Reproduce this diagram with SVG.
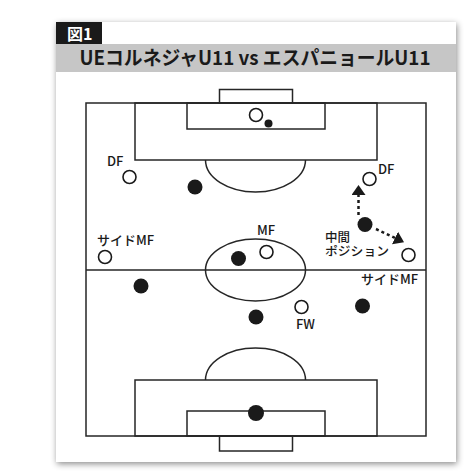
<svg xmlns="http://www.w3.org/2000/svg" width="474" height="474" viewBox="0 0 474 474">
<defs>
<filter id="sh" x="-10%" y="-10%" width="120%" height="120%">
<feDropShadow dx="1" dy="2" stdDeviation="3" flood-color="#000" flood-opacity="0.45"/>
</filter>
<marker id="ah" viewBox="0 0 10 14" refX="0" refY="7" markerWidth="10" markerHeight="14" markerUnits="userSpaceOnUse" orient="auto">
<path d="M0,0 L10,7 L0,14 z" fill="#1a1a1a"/>
</marker>
<style>
.ln{fill:none;stroke:#262626;stroke-width:1.5}
.wp{fill:#fff;stroke:#1a1a1a;stroke-width:1.6}
.bp{fill:#1a1a1a}
.lb{font-family:"Noto Sans CJK JP","Noto Sans",sans-serif;font-size:13px;font-weight:500;fill:#1a1a1a}
.lt{font-family:"Liberation Sans","Noto Sans CJK JP",sans-serif;font-size:12.5px;font-weight:500;fill:#1a1a1a}
.dt{fill:none;stroke:#1a1a1a;stroke-width:2.5;stroke-dasharray:3 3}
</style>
</defs>
<rect width="474" height="474" fill="#fff"/>
<g id="frame">
<rect x="56" y="22" width="400" height="440" fill="#fff" filter="url(#sh)"/>
<rect x="56" y="44" width="400" height="28" fill="#c6c6c6"/>
<rect x="56" y="22" width="46" height="22" fill="#1a1a1a"/>
<text x="67" y="40" font-family="Noto Sans CJK JP,sans-serif" font-size="16" font-weight="700" fill="#fff">図1</text>
<text x="255" y="65" text-anchor="middle" font-family="Noto Sans CJK JP,sans-serif" font-size="19.5" font-weight="700" fill="#1a1a1a" textLength="351" lengthAdjust="spacingAndGlyphs">UEコルネジャU11 vs エスパニョールU11</text>
</g>
<g id="field">
<rect class="ln" x="86" y="103" width="340" height="333"/>
<line class="ln" x1="86" y1="270" x2="426" y2="270"/>
<ellipse class="ln" cx="255.5" cy="270" rx="50" ry="31"/>
<rect class="ln" x="135" y="103" width="242" height="57"/>
<rect class="ln" x="187" y="103" width="138" height="26"/>
<rect class="ln" x="219.5" y="89.5" width="73" height="13.5"/>
<path class="ln" d="M205.5,160 A50,32 0 0 0 305.5,160"/>
<rect class="ln" x="135" y="380" width="242" height="56"/>
<rect class="ln" x="187" y="411" width="138" height="25"/>
<rect class="ln" x="219.5" y="436" width="73" height="15"/>
<path class="ln" d="M205.5,380 A50,32 0 0 1 305.5,380"/>
</g>
<g id="connectors">
<line class="dt" x1="358.5" y1="215" x2="358.5" y2="195" marker-end="url(#ah)"/>
<line class="dt" x1="376" y1="229" x2="395" y2="238" marker-end="url(#ah)"/>
</g>
<g id="gk-white"><circle class="wp" cx="256" cy="115" r="6.5"/></g>
<g id="gk-black-top"><circle class="bp" cx="268.5" cy="123.5" r="4"/></g>
<g id="df-left"><circle class="wp" cx="129.5" cy="177" r="6.5"/><text class="lb" x="107" y="166">DF</text></g>
<g id="black-1"><circle class="bp" cx="195" cy="187" r="7.5"/></g>
<g id="sidemf-left"><circle class="wp" cx="105" cy="257" r="6.5"/><text class="lb" x="97" y="245">サイドMF</text></g>
<g id="black-2"><circle class="bp" cx="238.5" cy="258.5" r="7.5"/></g>
<g id="mf"><circle class="wp" cx="266.5" cy="252" r="6.5"/><text class="lb" x="257" y="235">MF</text></g>
<g id="df-right"><circle class="wp" cx="369.5" cy="179" r="6.5"/><text class="lb" x="378" y="174">DF</text></g>
<g id="mid-position"><circle class="bp" cx="365" cy="224.5" r="7.5"/><text class="lt" x="325" y="241.5">中間</text><text class="lt" x="325" y="256" textLength="64" lengthAdjust="spacingAndGlyphs">ポジション</text></g>
<g id="sidemf-right"><circle class="wp" cx="408.5" cy="255" r="6.5"/><text class="lb" x="361" y="284">サイドMF</text></g>
<g id="black-3"><circle class="bp" cx="141" cy="286" r="7.5"/></g>
<g id="black-4"><circle class="bp" cx="256" cy="317" r="7.5"/></g>
<g id="fw"><circle class="wp" cx="301.5" cy="307" r="6.5"/><text class="lb" x="296" y="328.5">FW</text></g>
<g id="black-5"><circle class="bp" cx="362.5" cy="306" r="7.5"/></g>
<g id="gk-black-bottom"><circle class="bp" cx="256" cy="413" r="8"/></g>
</svg>
